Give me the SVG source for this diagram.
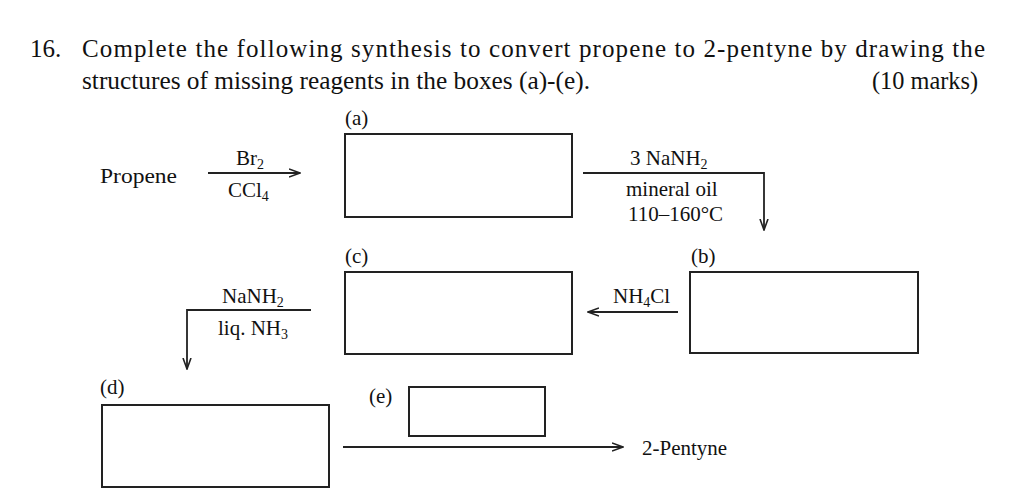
<svg xmlns="http://www.w3.org/2000/svg" width="1024" height="502" viewBox="0 0 1024 502">
<style>
text{font-family:"Liberation Serif","Times New Roman",serif;fill:#111}
.t{font-size:25px}
.l{font-size:21px}
.s{font-size:14px}
.box{fill:none;stroke:#222;stroke-width:2}
.c{fill:none;stroke:#222;stroke-width:1.8}
</style>
<defs>
<marker id="ah" viewBox="0 0 12 10" refX="11" refY="5" markerWidth="12" markerHeight="10" markerUnits="userSpaceOnUse" orient="auto">
<path d="M0,1 L11,5 L0,9" fill="none" stroke="#222" stroke-width="1.6"/>
</marker>
</defs>
<rect width="1024" height="502" fill="#fff"/>
<text class="t" x="30" y="57">16.</text>
<text class="t" x="82" y="57" textLength="903" lengthAdjust="spacing">Complete the following synthesis to convert propene to 2-pentyne by drawing the</text>
<text class="t" x="82" y="89" textLength="508" lengthAdjust="spacingAndGlyphs">structures of missing reagents in the boxes (a)-(e).</text>
<text class="t" x="872" y="89" textLength="106" lengthAdjust="spacingAndGlyphs">(10 marks)</text>
<text class="l" x="100" y="183" textLength="77" lengthAdjust="spacingAndGlyphs">Propene</text>
<g id="a"><rect class="box" x="345" y="134" width="227" height="83"/><text class="l" x="345" y="125">(a)</text></g>
<g id="b"><rect class="box" x="690" y="272" width="228" height="81"/><text class="l" x="691" y="263">(b)</text></g>
<g id="c"><rect class="box" x="345" y="272" width="227" height="82"/><text class="l" x="345" y="263">(c)</text></g>
<g id="d"><rect class="box" x="102" y="405" width="227" height="82"/><text class="l" x="100" y="394">(d)</text></g>
<g id="e"><rect class="box" x="409" y="387" width="136" height="49"/><text class="l" x="369" y="403">(e)</text></g>
<g id="connectors">
<line class="c" x1="208" y1="173" x2="300" y2="173" marker-end="url(#ah)"/>
<polyline class="c" points="583,173 764,173 764,230" marker-end="url(#ah)"/>
<line class="c" x1="678" y1="312" x2="588" y2="312" marker-end="url(#ah)"/>
<polyline class="c" points="311,310 187,310 187,369" marker-end="url(#ah)"/>
<line class="c" x1="343" y1="447" x2="623" y2="447" marker-end="url(#ah)"/>
</g>
<g id="labels">
<text class="l" x="236" y="165">Br<tspan class="s" dy="4">2</tspan></text>
<text class="l" x="228" y="197">CCl<tspan class="s" dy="4">4</tspan></text>
<text class="l" x="630" y="165">3 NaNH<tspan class="s" dy="4">2</tspan></text>
<text class="l" x="626" y="196">mineral oil</text>
<text class="l" x="628" y="221">110–160°C</text>
<text class="l" x="613" y="303">NH<tspan class="s" dy="4">4</tspan><tspan dy="-4">Cl</tspan></text>
<text class="l" x="222" y="303">NaNH<tspan class="s" dy="4">2</tspan></text>
<text class="l" x="218" y="335">liq. NH<tspan class="s" dy="4">3</tspan></text>
<text class="l" x="642" y="455">2-Pentyne</text>
</g>
</svg>
